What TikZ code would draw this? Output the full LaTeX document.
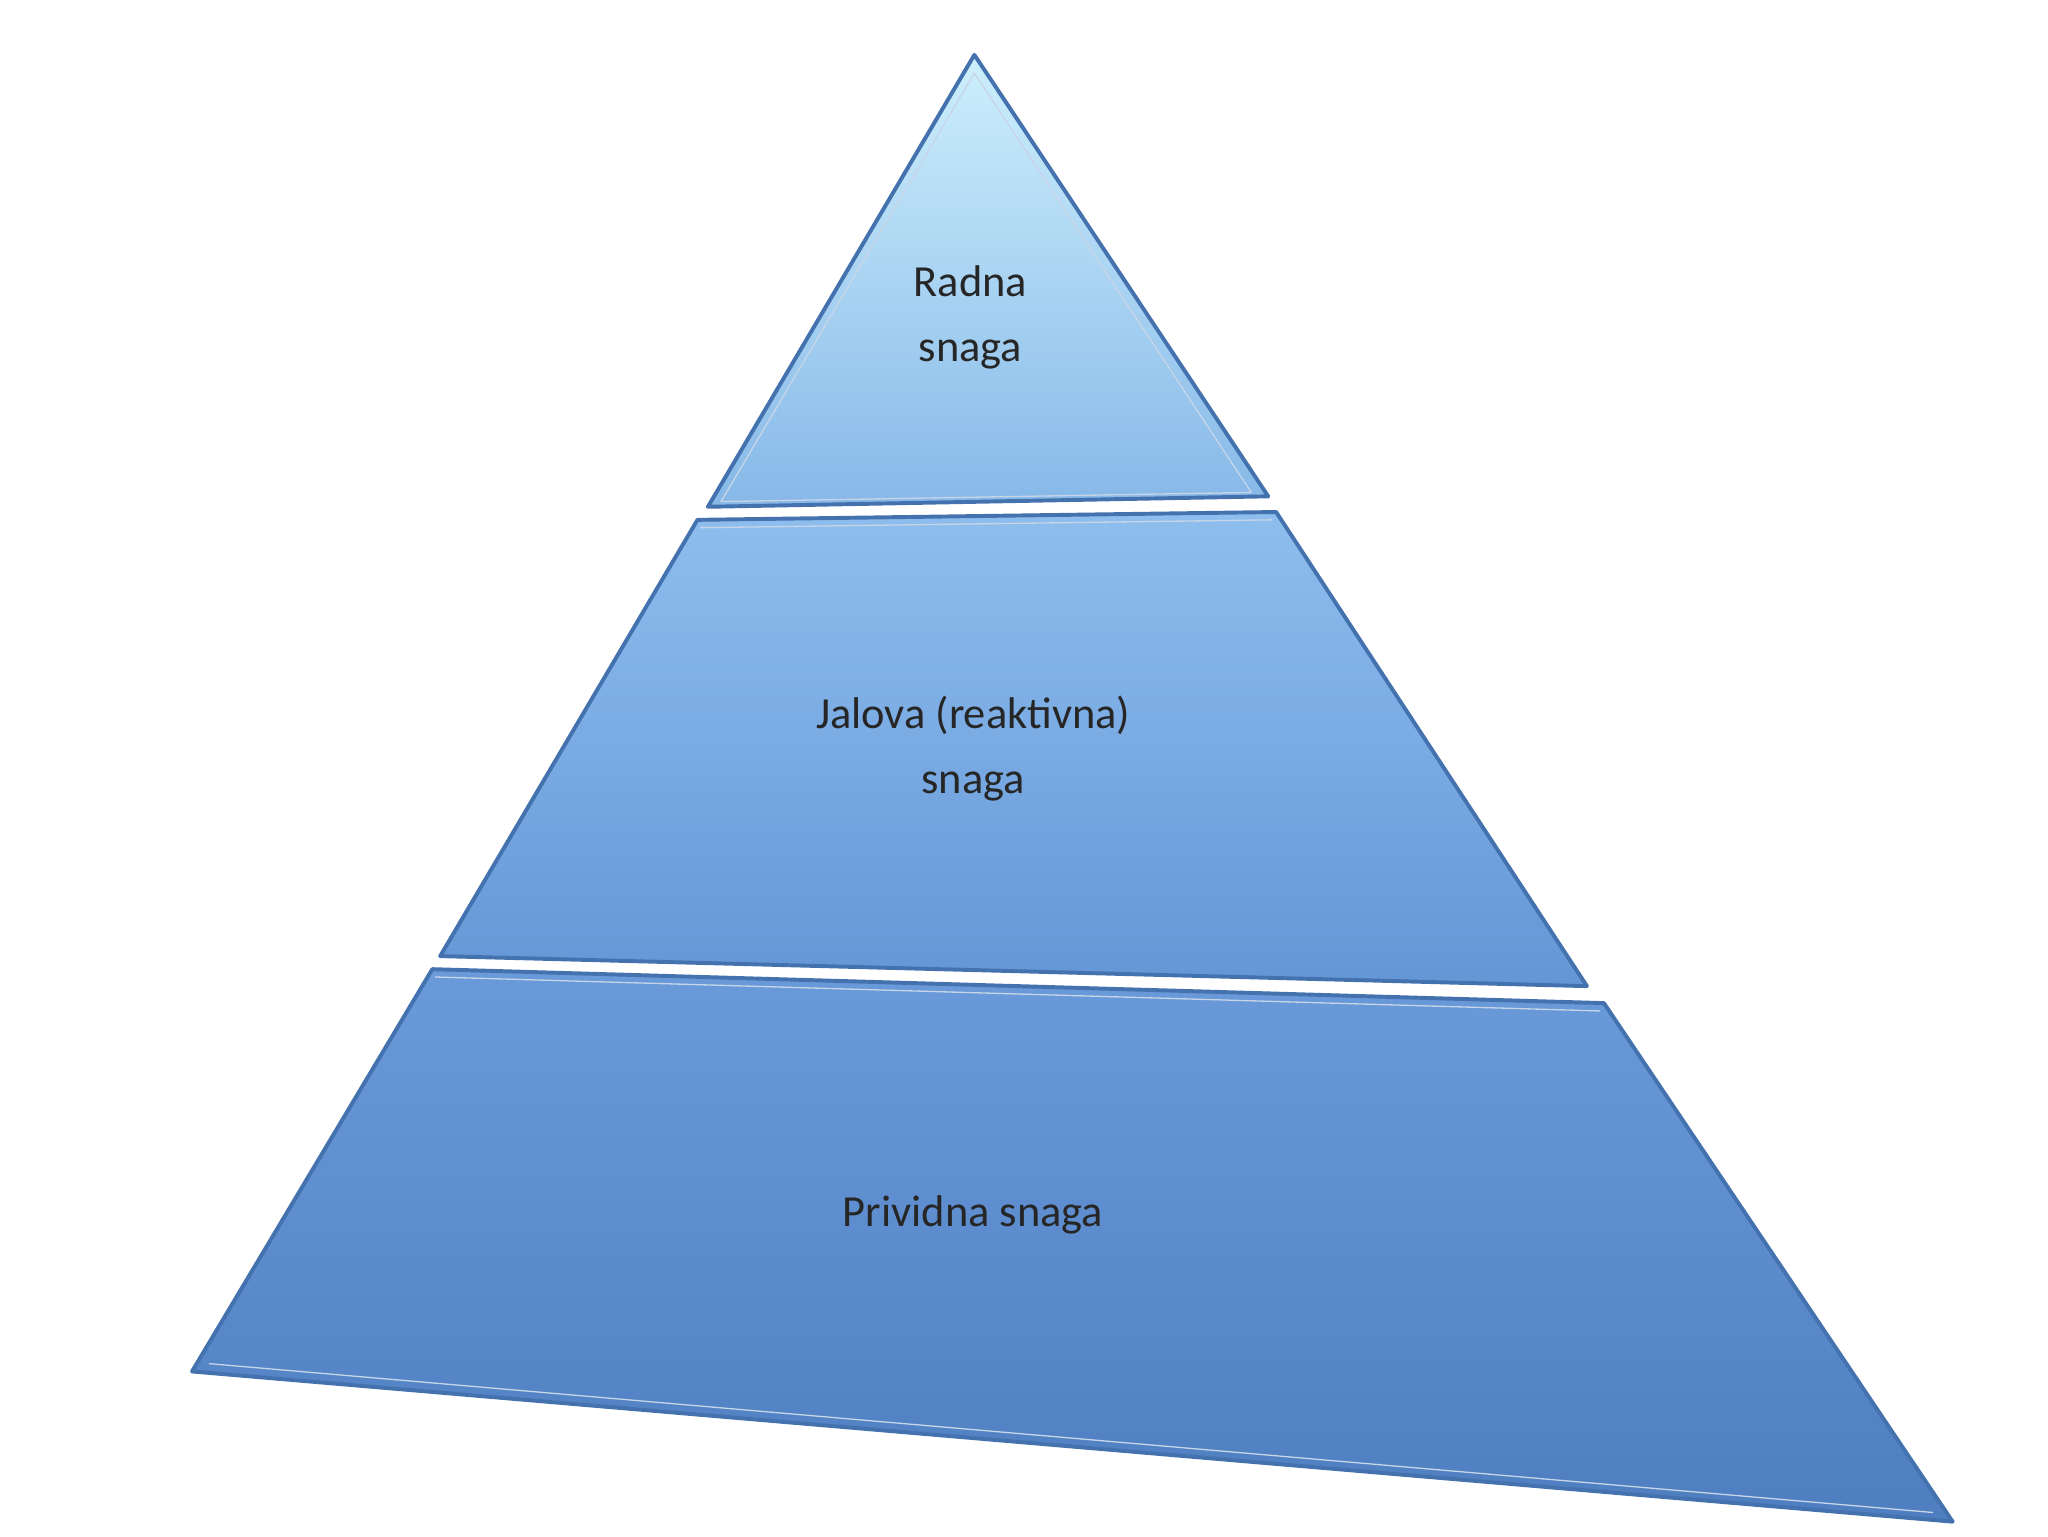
\documentclass[tikz,border=0pt]{standalone}
\usepackage{fontspec}
\setmainfont{Carlito}
\begin{document}
\begin{tikzpicture}[x=1pt,y=-1pt,
  tier/.style={draw=edgec,line width=3pt,line join=round},
  inner/.style={draw=white!70!edgec,line width=1pt,line join=round},
  lbl/.style={font=\fontsize{34}{50}\selectfont,text=black!85,align=center}]
\definecolor{edgec}{HTML}{4472AE}
\definecolor{t1a}{HTML}{CDEFFC}\definecolor{t1b}{HTML}{86B8E8}
\definecolor{t2a}{HTML}{8EBEEE}\definecolor{t2b}{HTML}{6496D6}
\definecolor{t3a}{HTML}{6A9ADA}\definecolor{t3b}{HTML}{4E7EC0}
\useasboundingbox[fill=white] (0,0) rectangle (1568,1176);
% top tier
\shade[top color=t1a,bottom color=t1b] (746,42) -- (971,380) -- (542,388) -- cycle;
\draw[tier] (746,42) -- (971,380) -- (542,388) -- cycle;
\draw[inner] (746,56) -- (958,377) -- (552,384) -- cycle;
% middle tier
\shade[top color=t2a,bottom color=t2b] (534,398) -- (977,392) -- (1215,755) -- (337,732) -- cycle;
\draw[tier] (534,398) -- (977,392) -- (1215,755) -- (337,732) -- cycle;
\draw[inner] (536,404) -- (974,398);
% bottom tier
\shade[top color=t3a,bottom color=t3b] (331,742) -- (1228,768) -- (1495,1165) -- (147,1050) -- cycle;
\draw[tier] (331,742) -- (1228,768) -- (1495,1165) -- (147,1050) -- cycle;
\draw[inner] (333,748) -- (1225,774);
\draw[inner] (160,1044) -- (1480,1158);
\node[lbl] (r) at (743,243) {Radna\\snaga};
\node[lbl] (j) at (745,573) {Jalova (reaktivna)\\snaga};
\node[lbl] (p) at (745,930) {Prividna snaga};
\end{tikzpicture}
\end{document}
